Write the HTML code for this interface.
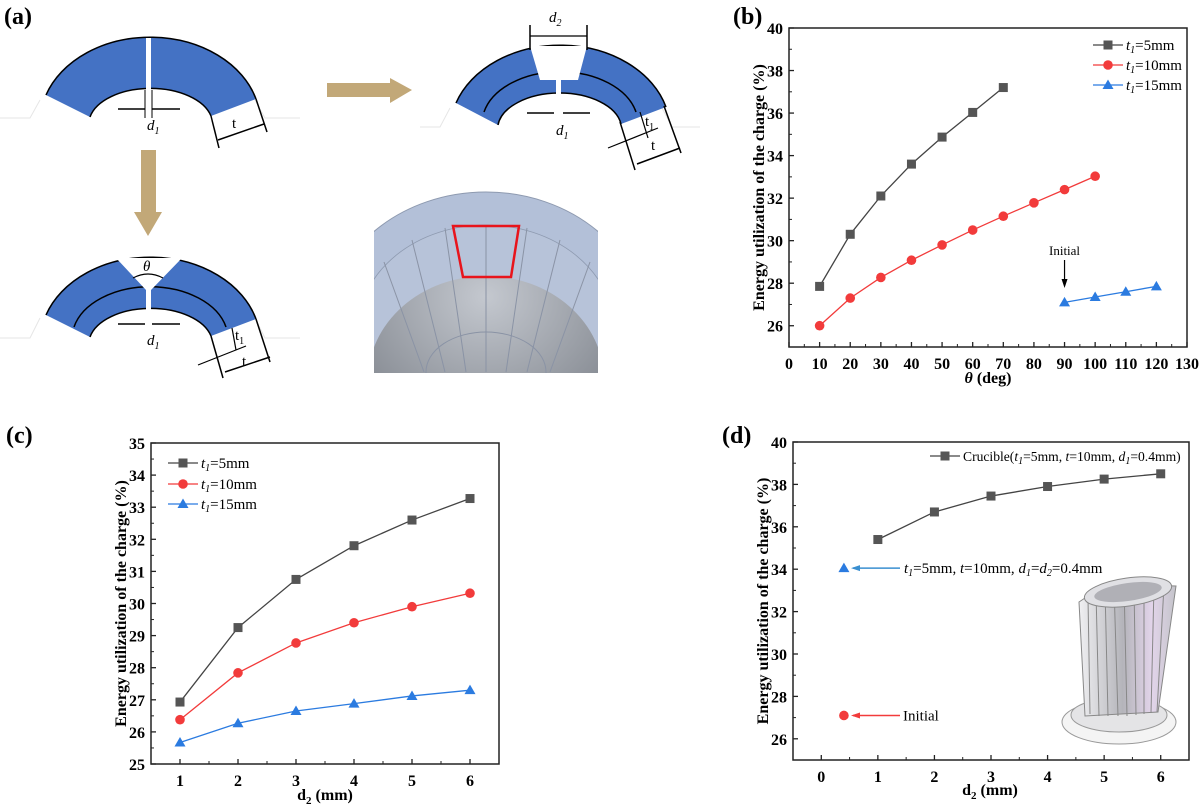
<!DOCTYPE html>
<html><head><meta charset="utf-8"><style>
body{margin:0;background:#fff;}
svg{display:block;font-family:"Liberation Serif",serif;}
.tk{font-size:16px;font-weight:bold;}
.tt{font-size:16px;font-weight:bold;}
.lg{font-size:15px;}
.pl{font-size:24px;font-weight:bold;}
</style></head><body>
<svg id="fig" width="1200" height="806" viewBox="0 0 1200 806">
<text class="pl" x="4" y="24">(a)</text>
<text class="pl" x="733" y="24">(b)</text>
<text class="pl" x="6" y="443">(c)</text>
<text class="pl" x="722" y="443">(d)</text>

<g id="schem" font-style="italic" font-size="15">
  <path d="M0 118 L30 118 L40 100 M255 100 L265 118 L300 118" stroke="#e6e6e6" fill="none"/>
  <path d="M0 338 L30 338 L40 318 M255 318 L265 338 L300 338" stroke="#e6e6e6" fill="none"/>
  <path d="M420 127 L440 127 L450 108 M662 108 L672 127 L700 127" stroke="#e6e6e6" fill="none"/>
  <g>
    <path d="M46 95 A110 85 0 0 1 256 99 L211 116 A62 36 0 0 0 90 117 Z" fill="#4472c4"/>
    <path d="M46 95 A110 85 0 0 1 256 99" fill="none" stroke="#000" stroke-width="1.5"/>
    <path d="M211 116 A62 36 0 0 0 90 117" fill="none" stroke="#000" stroke-width="1.5"/>
    <rect x="146" y="38" width="5" height="82" fill="#fff"/>
    <line x1="145" y1="90" x2="145" y2="118" stroke="#000"/><line x1="152" y1="90" x2="152" y2="118" stroke="#000"/>
    <line x1="118" y1="109" x2="145" y2="109" stroke="#000" stroke-width="1.5"/>
    <line x1="152" y1="109" x2="180" y2="109" stroke="#000" stroke-width="1.5"/>
    <text x="147" y="130">d<tspan font-size="10" dy="4">1</tspan></text>
    <line x1="211" y1="116" x2="219" y2="148" stroke="#000" stroke-width="1.5"/>
    <line x1="256" y1="99" x2="267" y2="132" stroke="#000" stroke-width="1.5"/>
    <line x1="218" y1="140" x2="264" y2="124" stroke="#000" stroke-width="1.5"/>
    <text x="232" y="128" font-style="normal">t</text>
  </g>
  <g>
    <path d="M456 103 A110 85 0 0 1 666 107 L621 124 A62 36 0 0 0 498 125 Z" fill="#4472c4"/>
    <path d="M456 103 A110 85 0 0 1 666 107" fill="none" stroke="#000" stroke-width="1.5"/>
    <path d="M621 124 A62 36 0 0 0 498 125" fill="none" stroke="#000" stroke-width="1.5"/>
    <path d="M484 112 A78 52 0 0 1 636 112" fill="none" stroke="#000" stroke-width="1.5"/>
    <polygon points="530,46 587,46 578,80 540,80" fill="#fff"/>
    <rect x="556" y="78" width="5" height="52" fill="#fff"/>
    <line x1="530" y1="25" x2="530" y2="50" stroke="#000" stroke-width="1.5"/>
    <line x1="587" y1="25" x2="587" y2="50" stroke="#000" stroke-width="1.5"/>
    <line x1="530" y1="36" x2="587" y2="36" stroke="#000" stroke-width="1.2"/>
    <text x="549" y="22">d<tspan font-size="10" dy="4">2</tspan></text>
    <line x1="527" y1="113" x2="554" y2="113" stroke="#000" stroke-width="1.5"/>
    <line x1="563" y1="113" x2="590" y2="113" stroke="#000" stroke-width="1.5"/>
    <text x="556" y="135">d<tspan font-size="10" dy="4">1</tspan></text>
    <line x1="620" y1="122" x2="635" y2="170" stroke="#000" stroke-width="1.5"/>
    <line x1="664" y1="106" x2="681" y2="153" stroke="#000" stroke-width="1.5"/>
    <line x1="640" y1="112" x2="648" y2="138" stroke="#000" stroke-width="1.2"/>
    <line x1="608" y1="148" x2="658" y2="128" stroke="#000" stroke-width="1.2"/>
    <line x1="637" y1="164" x2="680" y2="148" stroke="#000" stroke-width="1.5"/>
    <text x="645" y="126" font-style="normal">t<tspan font-size="10" dy="4">1</tspan></text>
    <text x="651" y="150" font-style="normal">t</text>
  </g>
  <g>
    <path d="M46 315 A110 85 0 0 1 256 319 L211 336 A62 36 0 0 0 90 337 Z" fill="#4472c4"/>
    <path d="M46 315 A110 85 0 0 1 256 319" fill="none" stroke="#000" stroke-width="1.5"/>
    <path d="M211 336 A62 36 0 0 0 90 337" fill="none" stroke="#000" stroke-width="1.5"/>
    <path d="M74 327 A78 52 0 0 1 226 327" fill="none" stroke="#000" stroke-width="1.5"/>
    <polygon points="116,258 182,258 151,290 146,290" fill="#fff"/>
    <rect x="146" y="288" width="5" height="50" fill="#fff"/>
    <path d="M133 278 Q148 270 163 278" fill="none" stroke="#000" stroke-width="1.2"/>
    <text x="143" y="271">θ</text>
    <line x1="118" y1="324" x2="145" y2="324" stroke="#000" stroke-width="1.5"/>
    <line x1="152" y1="324" x2="180" y2="324" stroke="#000" stroke-width="1.5"/>
    <text x="147" y="345">d<tspan font-size="10" dy="4">1</tspan></text>
    <line x1="211" y1="336" x2="223" y2="378" stroke="#000" stroke-width="1.5"/>
    <line x1="256" y1="319" x2="270" y2="362" stroke="#000" stroke-width="1.5"/>
    <line x1="232" y1="328" x2="236" y2="350" stroke="#000" stroke-width="1.2"/>
    <line x1="198" y1="365" x2="246" y2="346" stroke="#000" stroke-width="1.2"/>
    <line x1="225" y1="372" x2="270" y2="357" stroke="#000" stroke-width="1.5"/>
    <text x="235" y="340" font-style="normal">t<tspan font-size="10" dy="4">1</tspan></text>
    <text x="242" y="366" font-style="normal">t</text>
  </g>
  <polygon points="327,83 390,83 390,78 412,90 390,103 390,97 327,97" fill="#c2a878"/>
  <polygon points="141,150 156,150 156,212 162,212 148,236 134,212 141,212" fill="#c2a878"/>
  <g>
    <defs>
      <radialGradient id="dome" cx="0.5" cy="0.1" r="0.9"><stop offset="0" stop-color="#c4c8cf"/><stop offset="1" stop-color="#6f747c"/></radialGradient>
      <clipPath id="rc"><rect x="374" y="175" width="224" height="198"/></clipPath>
    </defs>
    <g clip-path="url(#rc)">
      <ellipse cx="486" cy="330" rx="160" ry="138" fill="#b3c0d8" stroke="#8e9ab0"/>
      <ellipse cx="486" cy="330" rx="128" ry="105" fill="#b7c3d9" stroke="#8e9ab0" stroke-width="0.8"/>
      <ellipse cx="486" cy="380" rx="118" ry="104" fill="url(#dome)"/>
      <g stroke="#8a93a5" stroke-width="1" fill="none">
        <line x1="486" y1="226" x2="486" y2="372"/><line x1="445" y1="228" x2="466" y2="372"/><line x1="527" y1="228" x2="506" y2="372"/>
        <line x1="412" y1="240" x2="445" y2="372"/><line x1="560" y1="240" x2="527" y2="372"/>
        <line x1="384" y1="262" x2="424" y2="372"/><line x1="590" y1="262" x2="550" y2="372"/>
        <ellipse cx="486" cy="372" rx="60" ry="40"/>
      </g>
    </g>
    <polygon points="453,226 519,226 511,277 463,277" fill="none" stroke="#e8141c" stroke-width="2.5"/>
  </g>
</g>

<g id="pb"></g>
<g id="pc"></g>
<g id="pd"></g>
</svg>
<script>
// ---- chart (b) data ----
const bX1=[10,20,30,40,50,60,70];
const bY1=[27.85,30.3,32.1,33.6,34.87,36.03,37.2];
const bX2=[10,20,30,40,50,60,70,80,90,100];
const bY2=[26.0,27.3,28.27,29.08,29.8,30.5,31.15,31.78,32.4,33.03];
const bX3=[90,100,110,120];
const bY3=[27.1,27.35,27.6,27.85];
const bXTicks=[0,10,20,30,40,50,60,70,80,90,100,110,120,130];
const bYTicks=[26,28,30,32,34,36,38,40];
// ---- chart (c) data ----
const cX=[1,2,3,4,5,6];
const cY1=[26.93,29.25,30.75,31.8,32.6,33.27];
const cY2=[26.38,27.84,28.77,29.4,29.9,30.32];
const cY3=[25.67,26.27,26.65,26.88,27.12,27.3];
const cXTicks=[1,2,3,4,5,6];
const cYTicks=[25,26,27,28,29,30,31,32,33,34,35];
// ---- chart (d) data ----
const dX=[1,2,3,4,5,6];
const dY=[35.4,36.7,37.45,37.9,38.25,38.5];
const dBlue=[0.4,34.05];
const dRed=[0.4,27.1];
const dXTicks=[0,1,2,3,4,5,6];
const dYTicks=[26,28,30,32,34,36,38,40];

const NS="http://www.w3.org/2000/svg";
const BLK="#444",RED="#f23b3b",BLU="#2b7be0";
function mk(p,tag,at,txt){const e=document.createElementNS(NS,tag);for(const k in at)e.setAttribute(k,at[k]);if(txt!==undefined)e.textContent=txt;p.appendChild(e);return e;}
function axes(g,c){
  const sx=v=>c.L+(v-c.x0)/(c.x1-c.x0)*(c.R-c.L);
  const sy=v=>c.B-(v-c.y0)/(c.y1-c.y0)*(c.B-c.T);
  const box=mk(g,'rect',{x:c.L,y:c.T,width:c.R-c.L,height:c.B-c.T,fill:'none',stroke:'#222','stroke-width':1.5});
  
  
  c.xt.forEach(v=>{const x=sx(v);mk(g,'line',{x1:x,x2:x,y1:c.B,y2:c.B-5,stroke:'#222','stroke-width':1.3});
    const t=mk(g,'text',{x:x,y:c.B+22,'text-anchor':'middle',class:'tk'},String(v));
    
    
    const m=v+c.xm; if(m<c.x1) {const xm=sx(m);mk(g,'line',{x1:xm,x2:xm,y1:c.B,y2:c.B-3,stroke:'#222'});}});
  c.yt.forEach(v=>{const y=sy(v);mk(g,'line',{x1:c.L,x2:c.L+5,y1:y,y2:y,stroke:'#222','stroke-width':1.3});
    const t=mk(g,'text',{x:c.L-6,y:y+6,'text-anchor':'end',class:'tk'},String(v));
    
    
    const m=v+c.ym; if(m<c.y1){const ym=sy(m);mk(g,'line',{x1:c.L,x2:c.L+3,y1:ym,y2:ym,stroke:'#222'});}});
  if(c.extraYMinor){const ym=sy(c.extraYMinor);mk(g,'line',{x1:c.L,x2:c.L+3,y1:ym,y2:ym,stroke:'#222'});}
  const yt=mk(g,'text',{x:0,y:0,transform:`translate(${c.ytx},${(c.T+c.B)/2}) rotate(-90)`,'text-anchor':'middle',class:'tt'},'Energy utilization of the charge (%)');
  
  
  return {sx,sy};
}
function marker(g,type,x,y,col){
  let e;
  if(type==='s')e=mk(g,'rect',{x:x-4.5,y:y-4.5,width:9,height:9,fill:'#555'});
  else if(type==='c')e=mk(g,'circle',{cx:x,cy:y,r:4.8,fill:col});
  else e=mk(g,'polygon',{points:`${x},${y-5.5} ${x+5.5},${y+4} ${x-5.5},${y+4}`,fill:col});
  
  
}
function series(g,s,xs,ys,type,col,name){
  const p=xs.map((v,i)=>s.sx(v)+','+s.sy(ys[i])).join(' ');
  const l=mk(g,'polyline',{points:p,fill:'none',stroke:col,'stroke-width':1.3});
  
  
  xs.forEach((v,i)=>marker(g,type,s.sx(v),s.sy(ys[i]),col));
}
function legendRow(g,x,y,type,col,label,name,fs){
  const r=mk(g,'g',{});
  
  
  mk(r,'line',{x1:x,x2:x+30,y1:y,y2:y,stroke:col,'stroke-width':1.3});
  marker(r,type,x+15,y,col);
  const t=mk(r,'text',{x:x+33,y:y+5,class:'lg'});
  if(fs) t.setAttribute('style','font-size:'+fs+'px');
  t.innerHTML=label;
}
const T1='<tspan font-style="italic">t<tspan font-size="10" dy="3">1</tspan></tspan><tspan dy="-3">';

// (b)
const gb=document.getElementById('pb');
const sb=axes(gb,{L:789,R:1187,T:28,B:347,x0:0,x1:130,y0:25,y1:40,xt:bXTicks,yt:bYTicks,xm:5,ym:1,extraYMinor:25,ytx:764});
series(gb,sb,bX1,bY1,'s',BLK,'series-t1-5mm');
series(gb,sb,bX2,bY2,'c',RED,'series-t1-10mm');
series(gb,sb,bX3,bY3,'t',BLU,'series-t1-15mm');
legendRow(gb,1093,45,'s',BLK,T1+'=5mm</tspan>','legend-entry-5mm');
legendRow(gb,1093,65,'c',RED,T1+'=10mm</tspan>','legend-entry-10mm');
legendRow(gb,1093,85,'t',BLU,T1+'=15mm</tspan>','legend-entry-15mm');
mk(gb,'text',{x:sb.sx(90),y:255,'text-anchor':'middle','font-size':'13'},'Initial');
mk(gb,'line',{x1:sb.sx(90),x2:sb.sx(90),y1:260,y2:282,stroke:'#000','stroke-width':1.2});
mk(gb,'polygon',{points:`${sb.sx(90)-3},279 ${sb.sx(90)+3},279 ${sb.sx(90)},288`,fill:'#000'});
const xtb=mk(gb,'text',{x:988,y:383,'text-anchor':'middle',class:'tt'});
xtb.innerHTML='<tspan font-style="italic">θ</tspan> (deg)';



// (c)
const gc=document.getElementById('pc');
const sc=axes(gc,{L:151,R:499,T:443,B:764,x0:0.5,x1:6.5,y0:25,y1:35,xt:cXTicks,yt:cYTicks,xm:0.5,ym:0.5,ytx:126});
series(gc,sc,cX,cY1,'s',BLK,'series-t1-5mm');
series(gc,sc,cX,cY2,'c',RED,'series-t1-10mm');
series(gc,sc,cX,cY3,'t',BLU,'series-t1-15mm');
legendRow(gc,168,463,'s',BLK,T1+'=5mm</tspan>','legend-entry-5mm');
legendRow(gc,168,484,'c',RED,T1+'=10mm</tspan>','legend-entry-10mm');
legendRow(gc,168,504,'t',BLU,T1+'=15mm</tspan>','legend-entry-15mm');
const xtc=mk(gc,'text',{x:325,y:800,'text-anchor':'middle',class:'tt'});
xtc.innerHTML='d<tspan font-size="11" dy="4">2</tspan><tspan dy="-4"> (mm)</tspan>';



// (d)
const gd=document.getElementById('pd');
const sd=axes(gd,{L:793,R:1189,T:442,B:760,x0:-0.5,x1:6.5,y0:25,y1:40,xt:dXTicks,yt:dYTicks,xm:0.5,ym:1,extraYMinor:25,ytx:768});
const ins=mk(gd,'g',{});


ins.innerHTML=`<defs><linearGradient id="cyl" x1="0" x2="1"><stop offset="0" stop-color="#f0f0f2"/><stop offset="0.45" stop-color="#b4b4ba"/><stop offset="0.75" stop-color="#e2d4ea"/><stop offset="1" stop-color="#c4c4ca"/></linearGradient></defs>
<ellipse cx="1119" cy="722" rx="57" ry="22" fill="#f4f4f4" stroke="#999"/>
<ellipse cx="1119" cy="715" rx="48" ry="17" fill="#e4e4e6" stroke="#999"/>
<polygon points="1079,602 1106,584 1176,586 1158,712 1085,716" fill="url(#cyl)" stroke="#888"/>
<g stroke="#888" stroke-width="1">
<line x1="1088" y1="598" x2="1090" y2="714"/><line x1="1096" y1="592" x2="1099" y2="716"/><line x1="1105" y1="588" x2="1108" y2="716"/>
<line x1="1114" y1="586" x2="1118" y2="716"/><line x1="1124" y1="585" x2="1127" y2="716"/><line x1="1134" y1="585" x2="1136" y2="715"/>
<line x1="1144" y1="585" x2="1144" y2="714"/><line x1="1154" y1="586" x2="1151" y2="713"/><line x1="1164" y1="586" x2="1157" y2="712"/></g>
<ellipse cx="1128" cy="592" rx="44" ry="14" fill="#e0e0e4" stroke="#888" transform="rotate(-8 1128 592)"/>
<ellipse cx="1128" cy="592" rx="34" ry="9" fill="#b0b0b6" transform="rotate(-8 1128 592)"/>`;
series(gd,sd,dX,dY,'s',BLK,'series-crucible');
legendRow(gd,930,456,'s',BLK,'Crucible('+T1+'=5mm, </tspan><tspan font-style="italic">t</tspan>=10mm, <tspan font-style="italic">d<tspan font-size="10" dy="3">1</tspan></tspan><tspan dy="-3">=0.4mm)</tspan>','legend-entry-crucible',13.6);
marker(gd,'t',sd.sx(dBlue[0]),sd.sy(dBlue[1]),BLU);
marker(gd,'c',sd.sx(dRed[0]),sd.sy(dRed[1]),RED);
mk(gd,'line',{x1:900,x2:853,y1:sd.sy(dBlue[1]),y2:sd.sy(dBlue[1]),stroke:'#3a8fd0','stroke-width':1.5});
mk(gd,'polygon',{points:`851,${sd.sy(dBlue[1])} 860,${sd.sy(dBlue[1])-3} 860,${sd.sy(dBlue[1])+3}`,fill:'#3a8fd0'});
mk(gd,'line',{x1:900,x2:853,y1:sd.sy(dRed[1]),y2:sd.sy(dRed[1]),stroke:RED,'stroke-width':1.5});
mk(gd,'polygon',{points:`851,${sd.sy(dRed[1])} 860,${sd.sy(dRed[1])-3} 860,${sd.sy(dRed[1])+3}`,fill:RED});
const ab=mk(gd,'text',{x:904,y:sd.sy(dBlue[1])+5,class:'lg'});
ab.innerHTML=T1+'=5mm, </tspan><tspan font-style="italic">t</tspan>=10mm, <tspan font-style="italic">d<tspan font-size="10" dy="3">1</tspan></tspan><tspan dy="-3">=</tspan><tspan font-style="italic">d<tspan font-size="10" dy="3">2</tspan></tspan><tspan dy="-3">=0.4mm</tspan>';


const ai=mk(gd,'text',{x:903,y:sd.sy(dRed[1])+5,class:'lg'},'Initial');


const xtd=mk(gd,'text',{x:990,y:795,'text-anchor':'middle',class:'tt'});
xtd.innerHTML='d<tspan font-size="11" dy="4">2</tspan><tspan dy="-4"> (mm)</tspan>';


</script>
</body></html>
